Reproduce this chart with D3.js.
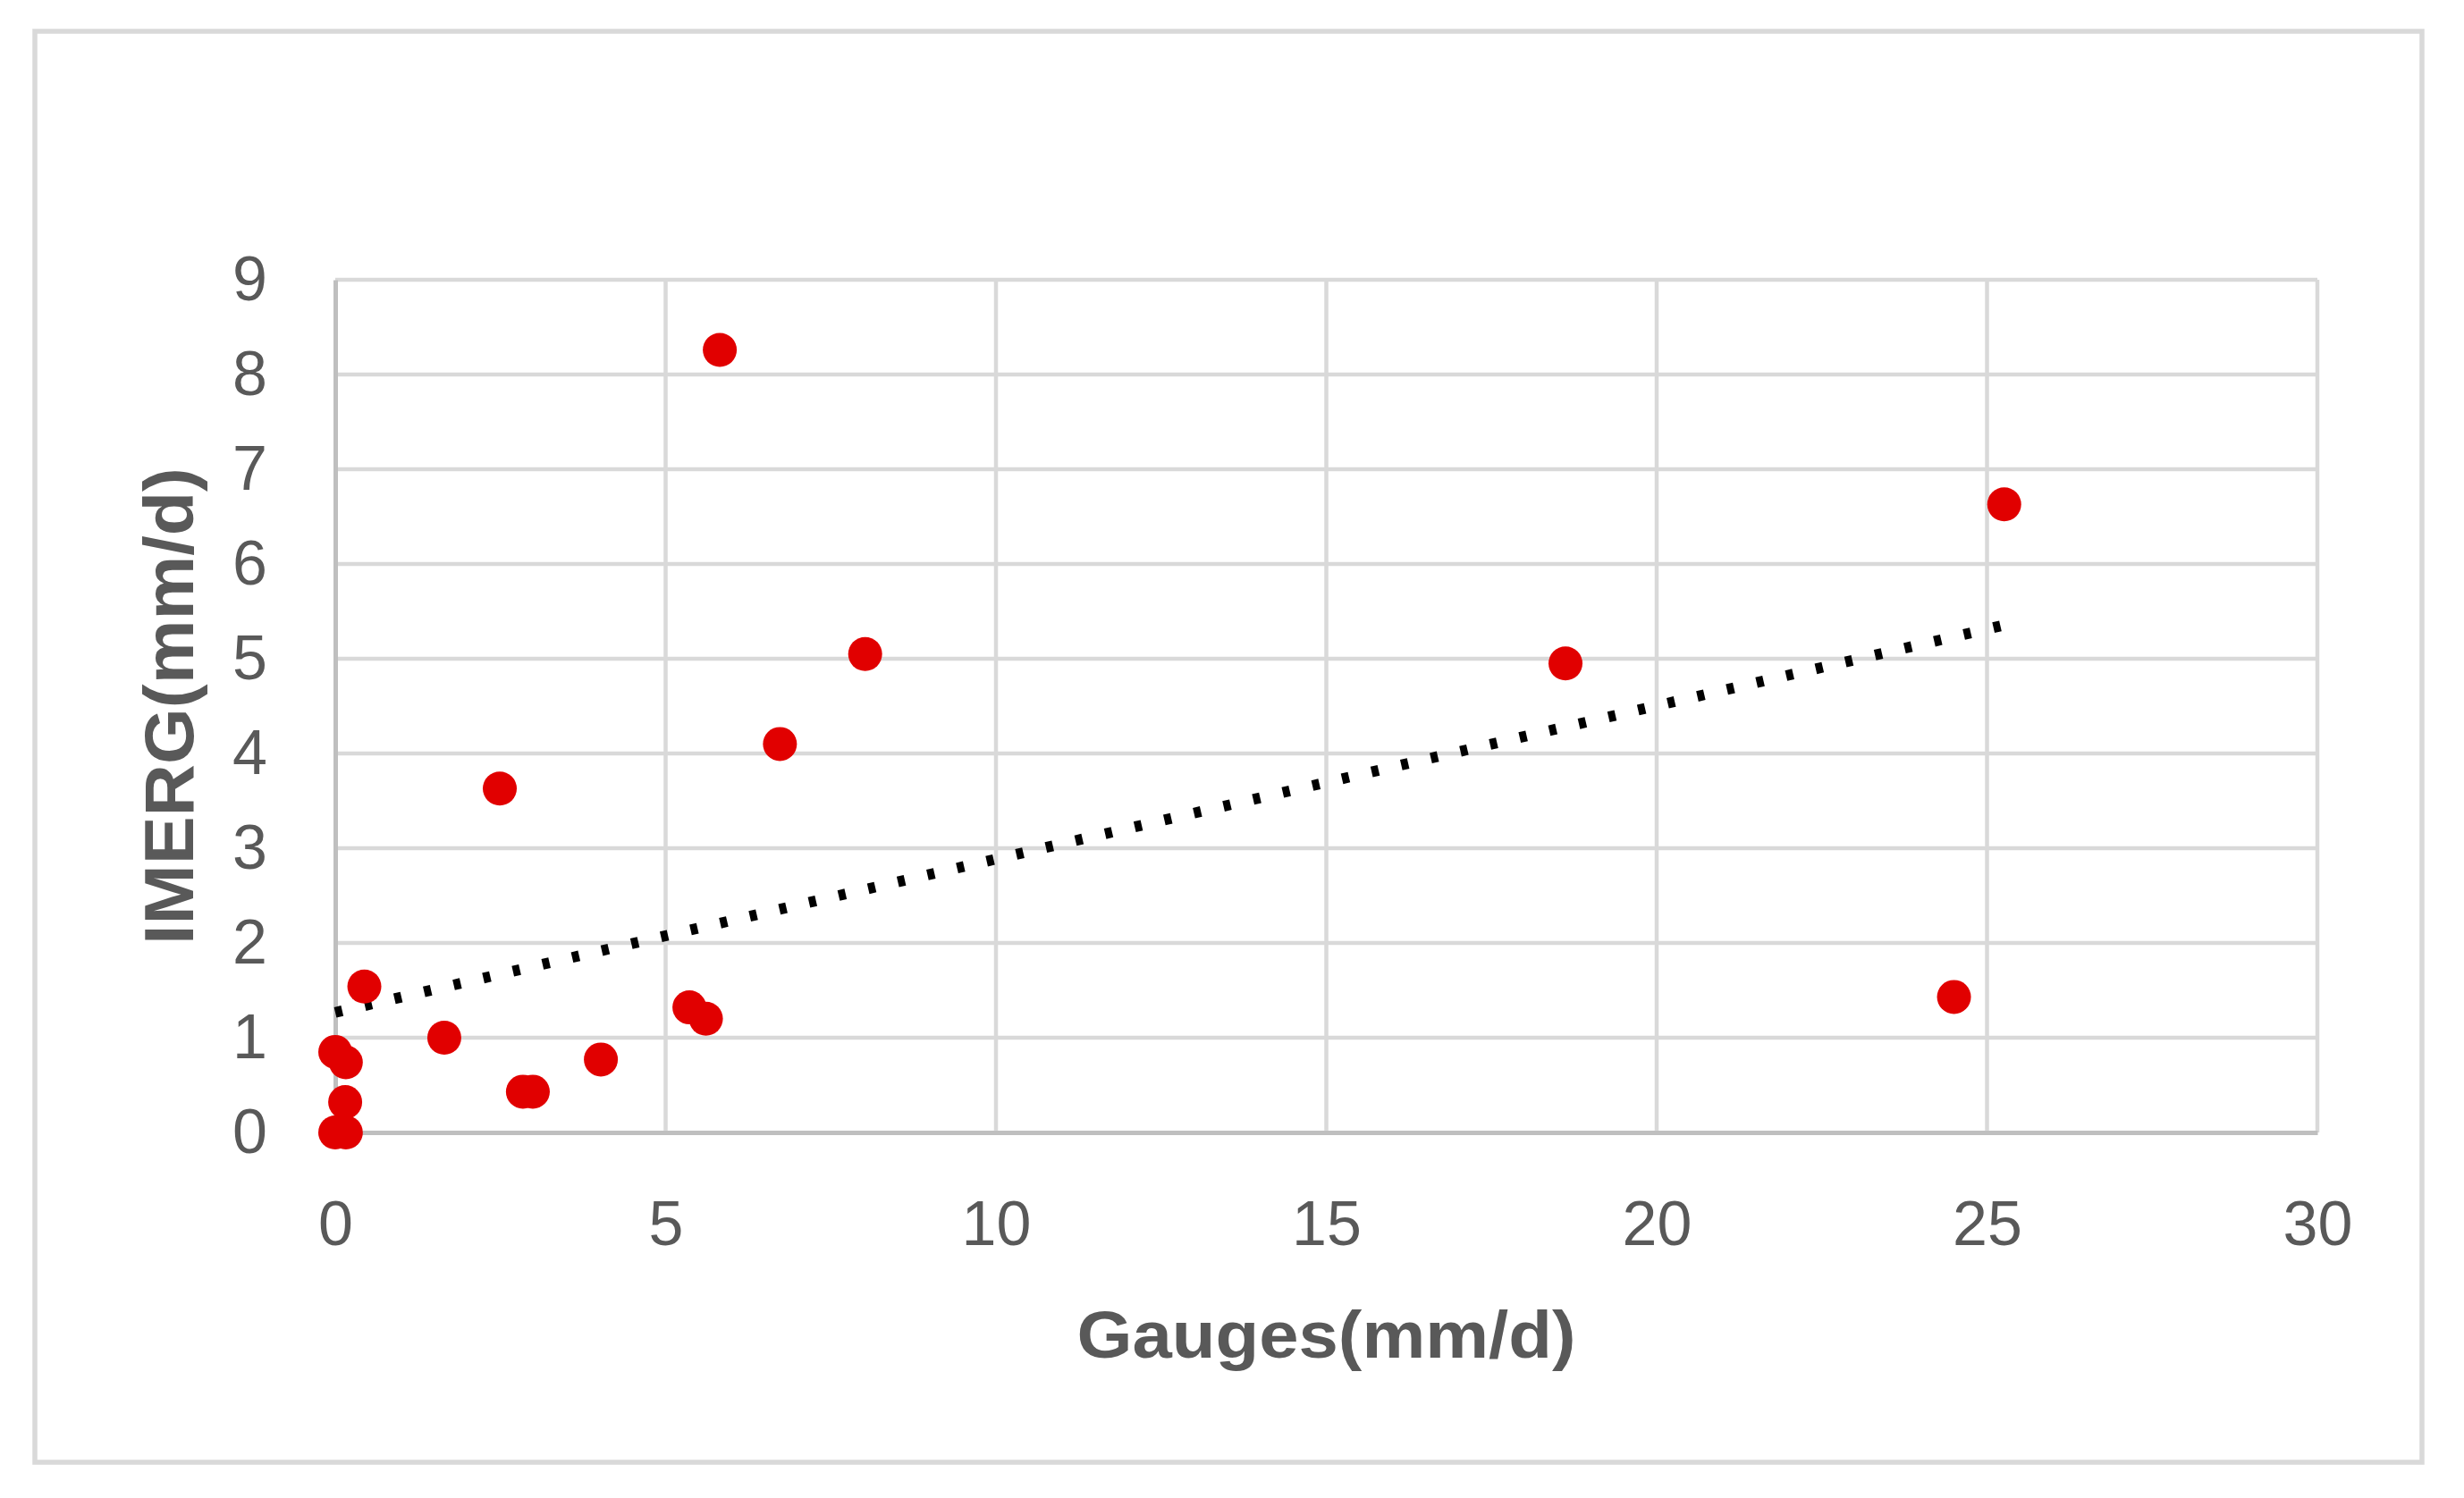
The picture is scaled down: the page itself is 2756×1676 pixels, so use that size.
<!DOCTYPE html>
<html>
<head>
<meta charset="utf-8">
<script src="https://cdn.jsdelivr.net/npm/d3@7"></script>
<style>
	html, body { margin: 0; padding: 0; background: #ffffff; }
	svg { display: block; }
</style>
</head>
<body>
<div id="chart"></div>
<script>
//Values: gauges (x) against IMERG (y), mm/d
var gauges = [5.82, 25.26, 8.02, 18.62, 6.73, 2.49, 0.44, 24.50, 5.36, 5.61, 1.65, 4.02, 2.84, 2.99, 0.00, 0.16, 0.15, 0.00, 0.16];
var imerg  = [8.26, 6.63, 5.05, 4.95, 4.10, 3.63, 1.54, 1.43, 1.32, 1.20, 1.00, 0.77, 0.43, 0.43, 0.85, 0.74, 0.32, 0.00, 0.00];

var xTicks = [0, 5, 10, 15, 20, 25, 30];
var yTicks = [0, 1, 2, 3, 4, 5, 6, 7, 8, 9];

var xTitle = "Gauges(mm/d)";
var yTitle = "IMERG(mm/d)";

var w = 2756, h = 1676;
//plot area edges (note: "top" is taken by window.top)
var plotLeft = 375, plotRight = 2592, plotTop = 313, plotBottom = 1267;

var svg = d3.select("#chart").append("svg")
	.attr("width", w)
	.attr("height", h);

svg.append("rect")
	.attr("width", w)
	.attr("height", h)
	.style("fill", "#ffffff");

//Outer chart border
svg.append("rect")
	.attr("x", 39)
	.attr("y", 35)
	.attr("width", 2670)
	.attr("height", 1601)
	.style("fill", "none")
	.style("stroke", "#d9d9d9")
	.style("stroke-width", 5.5);

var x = d3.scaleLinear().domain([0, 30]).range([plotLeft, plotRight]);
var y = d3.scaleLinear().domain([0, 9]).range([plotBottom, plotTop]);

//Gridlines
svg.append("g").selectAll("line")
	.data(yTicks.filter(function(d){ return d > 0; }))
	.enter().append("line")
	.attr("x1", plotLeft)
	.attr("x2", plotRight)
	.attr("y1", function(d){ return y(d); })
	.attr("y2", function(d){ return y(d); })
	.style("stroke", "#d9d9d9")
	.style("stroke-width", 4.5);

svg.append("g").selectAll("line")
	.data(xTicks.filter(function(d){ return d > 0; }))
	.enter().append("line")
	.attr("x1", function(d){ return x(d); })
	.attr("x2", function(d){ return x(d); })
	.attr("y1", plotTop)
	.attr("y2", plotBottom)
	.style("stroke", "#d9d9d9")
	.style("stroke-width", 4.5);

//Axes
var xAxis = svg.append("g")
	.attr("transform", "translate(0," + plotBottom + ")")
	.call(d3.axisBottom(x).tickValues(xTicks).tickSize(0).tickPadding(76));

var yAxis = svg.append("g")
	.attr("transform", "translate(" + plotLeft + ",0)")
	.call(d3.axisLeft(y).tickValues(yTicks).tickSize(0).tickPadding(76));

[xAxis, yAxis].forEach(function(a){
	a.select(".domain")
		.style("stroke", "#bfbfbf")
		.style("stroke-width", 5);
	a.selectAll("text")
		.style("font-family", "'Liberation Sans', Arial, sans-serif")
		.style("font-size", "70px")
		.style("fill", "#595959");
});

//Trendline (least squares through the points)
var n = gauges.length;
var mx = d3.mean(gauges), my = d3.mean(imerg);
var sxy = 0, sxx = 0;
for(var i = 0; i < n; i++){
	sxy += (gauges[i] - mx) * (imerg[i] - my);
	sxx += (gauges[i] - mx) * (gauges[i] - mx);
}
var slope = sxy / sxx;
var intercept = my - slope * mx;
var x0 = d3.min(gauges), x1 = d3.max(gauges);

svg.append("line")
	.attr("x1", x(x0))
	.attr("y1", y(intercept + slope * x0))
	.attr("x2", x(x1))
	.attr("y2", y(intercept + slope * x1))
	.style("stroke", "#000000")
	.style("stroke-width", 12)
	.style("stroke-linecap", "butt")
	.style("stroke-dasharray", "8 26");

//Points
svg.append("g").selectAll("circle")
	.data(d3.range(n))
	.enter().append("circle")
	.attr("cx", function(i){ return x(gauges[i]); })
	.attr("cy", function(i){ return y(imerg[i]); })
	.attr("r", 19)
	.style("fill", "#e10000");

//Axis titles
svg.append("text")
	.attr("x", (plotLeft + plotRight) / 2)
	.attr("y", 1519)
	.attr("text-anchor", "middle")
	.attr("textLength", 558)
	.attr("lengthAdjust", "spacingAndGlyphs")
	.style("font-family", "'Liberation Sans', Arial, sans-serif")
	.style("font-weight", "bold")
	.style("font-size", "75px")
	.style("fill", "#595959")
	.text(xTitle);

svg.append("text")
	.attr("transform", "translate(216," + ((plotTop + plotBottom) / 2) + ") rotate(-90)")
	.attr("text-anchor", "middle")
	.attr("textLength", 534)
	.attr("lengthAdjust", "spacingAndGlyphs")
	.style("font-family", "'Liberation Sans', Arial, sans-serif")
	.style("font-weight", "bold")
	.style("font-size", "78px")
	.style("fill", "#595959")
	.text(yTitle);
</script>
</body>
</html>
